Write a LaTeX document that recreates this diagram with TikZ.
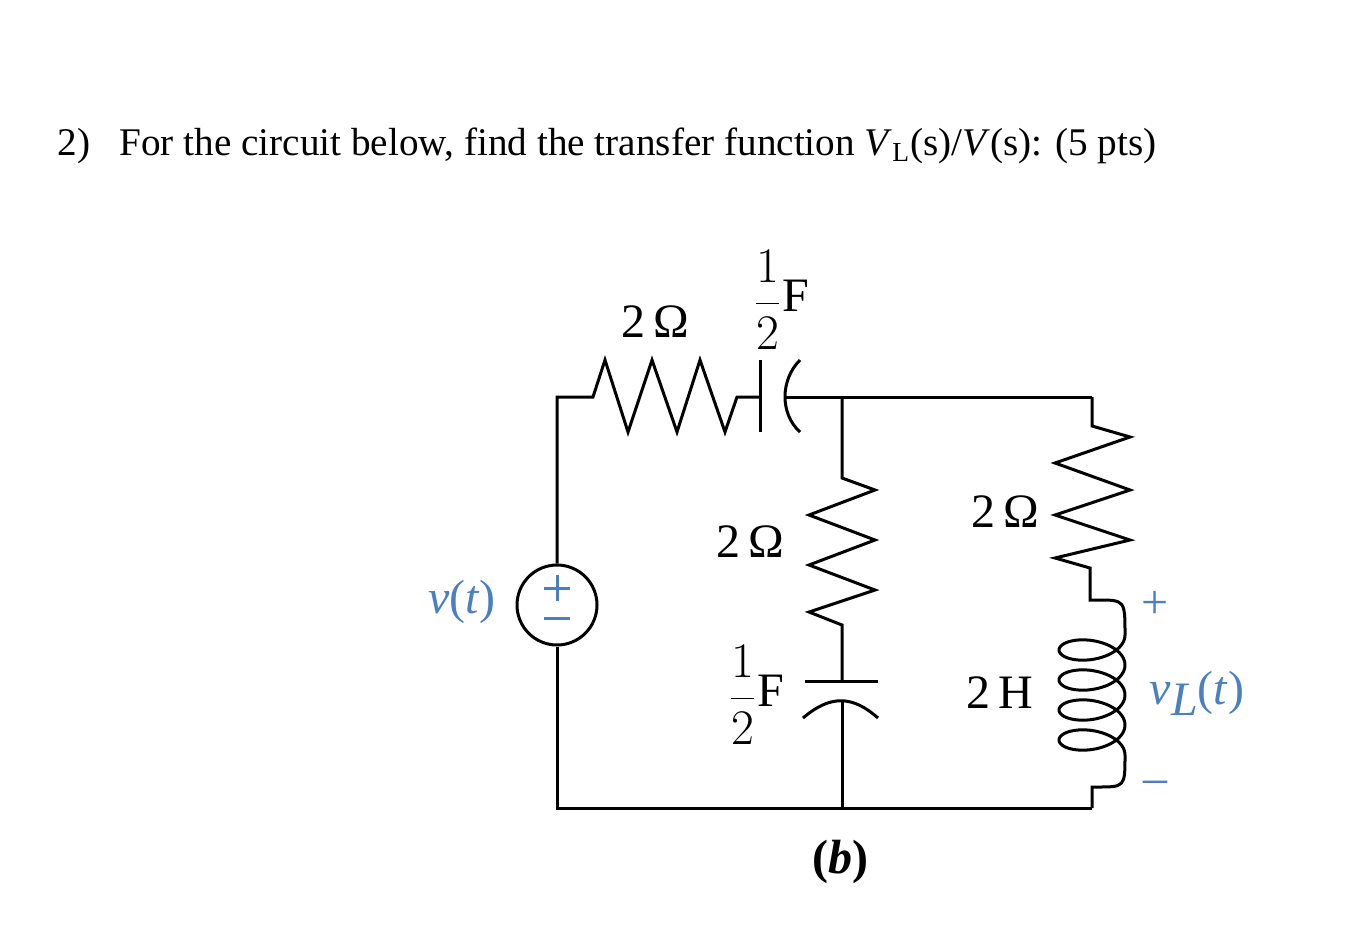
\documentclass[tikz,border=0pt]{standalone}
\usepackage{fontspec}
\setmainfont{Liberation Serif}
\definecolor{lblue}{RGB}{74,128,193}
\begin{document}
\begin{tikzpicture}[x=0.5pt,y=-0.5pt,
  wire/.style={line width=1.5pt,line join=miter},
  lbl/.style={font=\fontsize{24}{28}\selectfont,inner sep=0pt},
  blbl/.style={font=\fontsize{24}{28}\selectfont,inner sep=0pt,text=lblue}]
\useasboundingbox (0,0) rectangle (1371,926);
\node[anchor=base west,inner sep=0pt,font=\fontsize{19.6}{24}\selectfont] (title) at (57,155) {2)\hspace{0.75em}For the circuit below, find the transfer function \textit{V}\textsubscript{L}(s)/\textit{V}(s): (5 pts)};
% coordinates
\coordinate (tl) at (557,397);
\coordinate (bl) at (557,808);
\coordinate (tm) at (842,397);
\coordinate (bm) at (842,808);
\coordinate (tr) at (1092,397);
\coordinate (br) at (1092,808);
% source
\node[draw,circle,line width=1.5pt,minimum size=40pt,inner sep=0pt] (src) at (557,605) {};
\draw[line width=1.5pt,lblue] (557,575) -- (557,601) (544,588) -- (570,588) (544,618) -- (570,618);
\draw[wire] (src.north) -- (tl) -- (593,397) -- (605,360) -- (628,432) -- (652,360) -- (677,432) -- (700,360) -- (725,432) -- (737,397) -- (760,397);
\draw[wire] (760,360) -- (760,432);
\draw[wire] (800,360) .. controls (780,380) and (780,414) .. (800,432);
\draw[wire] (786,397) -- (tm) -- (tr);
\draw[wire] (src.south) -- (bl) -- (bm) -- (br);
% middle branch
\draw[wire] (tm) -- (842,478) -- (875,490) -- (809,515) -- (875,540) -- (809,565) -- (875,590) -- (809,612) -- (842,625) -- (842,681);
\draw[wire] (805,681) -- (878,681);
\draw[wire] (803,718) .. controls (830,695) and (852,695) .. (878,718);
\draw[wire] (842,700) -- (bm);
% right branch
\draw[wire] (tr) -- (1092,426) -- (1130,437) -- (1055,463) -- (1130,490) -- (1055,515) -- (1130,540) -- (1055,558) -- (1090,568) -- (1090,600) -- (1097,600) .. controls (1125,600) .. (1125,635);
\draw[wire,domain=0:1440,samples=240,smooth] plot ({1092+33*cos(\x)},{635+\x/360*30+17*sin(\x)});
\draw[wire] (1125,755) .. controls (1125,787) .. (1097,787) -- (1092,787) -- (br);
% labels
\node[lbl] (r1) at (655,322) {2\,Ω};
\node[lbl,anchor=east] (c1) at (782,300) {$\displaystyle\frac{1}{2}$};
\node[lbl,anchor=west] (c1f) at (782,296) {F};
\node[lbl] (r2) at (750,542) {2\,Ω};
\node[lbl,anchor=east] (c2) at (757,695) {$\displaystyle\frac{1}{2}$};
\node[lbl,anchor=west] (c2f) at (757,691) {F};
\node[lbl] (r3) at (1005,512) {2\,Ω};
\node[lbl] (l1) at (1000,693) {2\,H};
\node[blbl] (vt) at (462,602) {\textit{v}(\textit{t})};
\node[blbl] (pl) at (1155,605) {+};
\node[blbl] (vl) at (1197,693) {\textit{v}\raisebox{-0.5ex}{\textit{L}}(\textit{t})};
\node[blbl] (mi) at (1155,787) {–};
\node[lbl] (b) at (840,862) {\textbf{(\textit{b})}};
\end{tikzpicture}
\end{document}
